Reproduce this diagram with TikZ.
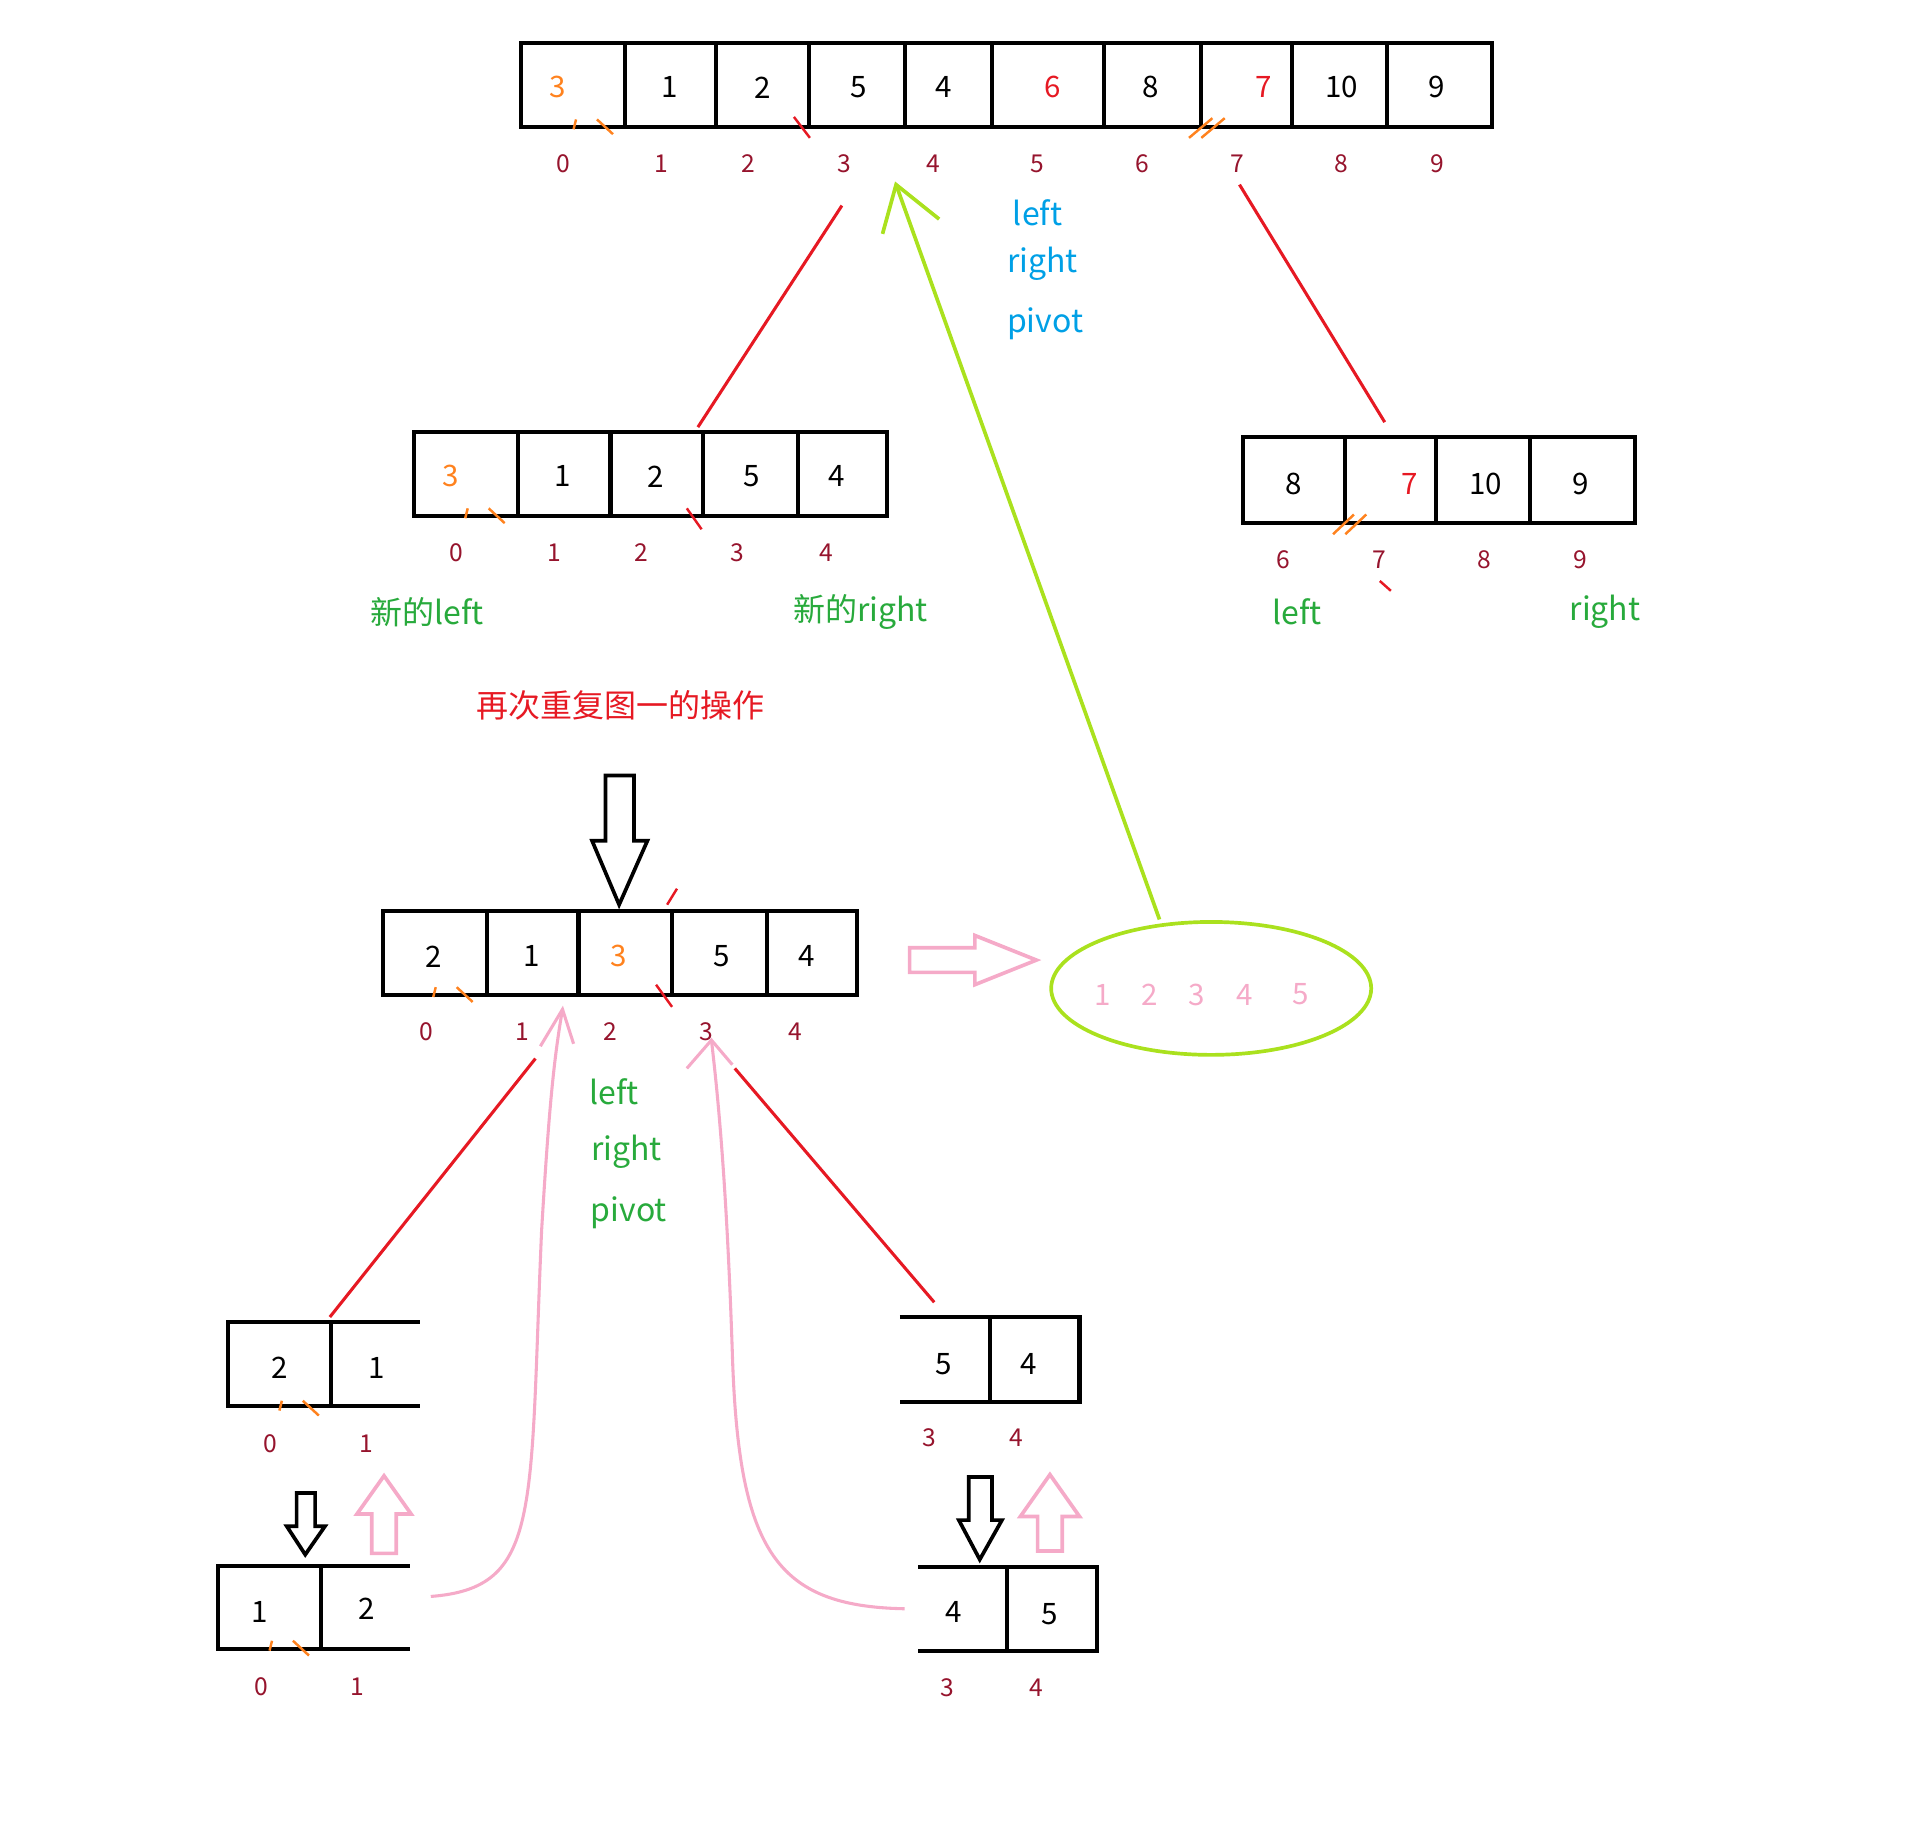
\documentclass[tikz,border=0pt]{standalone}
\usepackage{fontspec}
\setmainfont{Noto Sans CJK SC}
\usetikzlibrary{arrows.meta,shapes.geometric}
\definecolor{idx}{RGB}{150,20,45}
\definecolor{blu}{RGB}{0,160,230}
\definecolor{grn}{RGB}{40,170,60}
\definecolor{ylg}{RGB}{170,225,30}
\definecolor{pnk}{RGB}{245,170,200}
\definecolor{org}{RGB}{255,130,30}
\definecolor{rd}{RGB}{230,25,35}
\tikzset{
 cellbox/.style={line width=3.3pt,draw=black},
 val/.style={font=\fontsize{24}{28}\selectfont,inner sep=0pt},
 ix/.style={font=\fontsize{20}{24}\selectfont,text=idx,inner sep=0pt},
 lab/.style={font=\fontsize{26}{30}\selectfont,inner sep=0pt},
 redline/.style={draw=rd,line width=2.5pt},
 hollow/.style={line width=3pt,line join=miter},
}
\begin{document}
\begin{tikzpicture}[x=1pt,y=-1pt]
\useasboundingbox (0,0) rectangle (1568,1486);
% ---------- top array
\draw[cellbox] (423,35) rectangle (1212,103);
\foreach \x in {508,582,657,735,806,897,976,1050,1127} \draw[cellbox] (\x,35)--(\x,103);
\foreach \x/\v/\c [count=\i] in {453/3/org,544/1/black,620/2/black,698/5/black,767/4/black,855/6/rd,935/8/black,1027/7/rd,1090/10/black,1167/9/black}
  \node[val,text=\c] (t\i) at (\x,71) {\v};
\foreach \x/\v [count=\i] in {458/0,537/1,608/2,686/3,758/4,843/5,928/6,1005/7,1090/8,1168/9}
  \node[ix] (ti\i) at (\x,133) {\v};
\node[lab,text=blu] (l1) at (843,173) {left};
\node[lab,text=blu] (r1) at (847,214) {right};
\node[lab,text=blu] (p1) at (849,263) {pivot};
% ---------- array 2
\draw[cellbox] (336,351) rectangle (721,419);
\foreach \x in {421,496,571,648} \draw[cellbox] (\x,351)--(\x,419);
\foreach \x/\v/\c [count=\i] in {366/3/org,457/1/black,533/2/black,611/5/black,680/4/black}
  \node[val,text=\c] (a\i) at (\x,387) {\v};
\foreach \x/\v [count=\i] in {371/0,450/1,521/2,599/3,671/4}
  \node[ix] (ai\i) at (\x,449) {\v};
\node[lab,text=grn] (nl) at (347,497) {新的left};
\node[lab,text=grn] (nr) at (699,497) {新的right};
% ---------- array 3
\draw[cellbox] (1010,355) rectangle (1328,425);
\foreach \x in {1093,1167,1243} \draw[cellbox] (\x,355)--(\x,425);
\foreach \x/\v/\c [count=\i] in {1051/8/black,1145/7/rd,1207/10/black,1284/9/black}
  \node[val,text=\c] (b\i) at (\x,393) {\v};
\foreach \x/\v [count=\i] in {1043/6,1121/7,1206/8,1284/9}
  \node[ix] (bi\i) at (\x,455) {\v};
\node[lab,text=grn] (bl) at (1054,497) {left};
\node[lab,text=grn] (br) at (1304,497) {right};
% red connectors top
\coordinate (c1) at (684,167); \coordinate (c2) at (567,347);
\coordinate (c3) at (1007,150); \coordinate (c4) at (1125,343);
\draw[redline] (c1)--(c2);
\draw[redline] (c3)--(c4);
% text
\node[lab,text=rd] (rep) at (504,573) {再次重复图一的操作};
% hollow down arrow
\draw[hollow] (492,630)--(515,630)--(515,683)--(526,683)--(503,735)--(481,683)--(492,683)--cycle;
% ---------- array 4
\draw[cellbox] (311,740) rectangle (696,808);
\foreach \x in {396,470,546,623} \draw[cellbox] (\x,740)--(\x,808);
\foreach \x/\v/\c [count=\i] in {352/2/black,432/1/black,503/3/org,586/5/black,655/4/black}
  \node[val,text=\c] (d\i) at (\x,777) {\v};
\foreach \x/\v [count=\i] in {346/0,424/1,496/2,574/3,646/4}
  \node[ix] (di\i) at (\x,838) {\v};
\node[lab,text=grn] (gl) at (499,887) {left};
\node[lab,text=grn] (gr) at (509,936) {right};
\node[lab,text=grn] (gp) at (511,985) {pivot};
% pink right arrow
\draw[hollow,draw=pnk] (739,770)--(792,770)--(792,760)--(842,780)--(792,800)--(792,790)--(739,790)--cycle;
% ellipse
\node[draw=ylg,line width=3pt,ellipse,minimum width=260pt,minimum height=108pt,inner sep=0pt] (ell) at (984,803) {};
\foreach \x/\v in {896/1,934/2,972/3,1011/4,1057/5}
  \node[val,text=pnk] (e\v) at (\x,808) {\v};
% green line with open arrow
\coordinate (g1) at (942,747); \coordinate (g2) at (728,150);
\draw[draw=ylg,line width=3pt] (g1)--(g2);
\draw[draw=ylg,line width=3pt] (717,190)--(g2)--(763,178);
% red connectors lower
\coordinate (c5) at (435,860); \coordinate (c6) at (268,1070);
\coordinate (c7) at (597,868); \coordinate (c8) at (759,1058);
\draw[redline] (c5)--(c6);
\draw[redline] (c7)--(c8);
% ---------- array 5
\draw[cellbox] (341,1074)--(185,1074)--(185,1142)--(341,1142);
\draw[cellbox] (269,1074)--(269,1142);
\node[val] (f1) at (227,1111) {2}; \node[val] (f2) at (306,1111) {1};
\node[ix] (fi1) at (220,1173) {0}; \node[ix] (fi2) at (298,1173) {1};
% ---------- array 6
\draw[cellbox] (731,1070)--(877,1070)--(877,1139)--(731,1139);
\draw[cellbox] (804,1070)--(804,1139);
\node[val] (h1) at (767,1108) {5}; \node[val] (h2) at (836,1108) {4};
\node[ix] (hi1) at (755,1168) {3}; \node[ix] (hi2) at (826,1168) {4};
% small arrows
\draw[hollow] (241,1213)--(256,1213)--(256,1240)--(264,1240)--(248,1263)--(233,1240)--(241,1240)--cycle;
\draw[hollow,draw=pnk] (302,1262)--(322,1262)--(322,1230)--(334,1230)--(312,1199)--(290,1230)--(302,1230)--cycle;
\draw[hollow] (787,1200)--(806,1200)--(806,1235)--(814,1235)--(796,1267)--(779,1235)--(787,1235)--cycle;
\draw[hollow,draw=pnk] (843,1260)--(863,1260)--(863,1232)--(877,1232)--(853,1198)--(829,1232)--(843,1232)--cycle;
% ---------- array 7
\draw[cellbox] (333,1272)--(177,1272)--(177,1340)--(333,1340);
\draw[cellbox] (261,1272)--(261,1340);
\node[val] (k1) at (211,1310) {1}; \node[val] (k2) at (298,1307) {2};
\node[ix] (ki1) at (212,1370) {0}; \node[ix] (ki2) at (290,1370) {1};
% ---------- array 8
\draw[cellbox] (746,1273)--(891,1273)--(891,1341)--(746,1341);
\draw[cellbox] (818,1273)--(818,1341);
\node[val] (m1) at (775,1310) {4}; \node[val] (m2) at (853,1311) {5};
\node[ix] (mi1) at (770,1371) {3}; \node[ix] (mi2) at (842,1371) {4};
% pink curves
\coordinate (p1s) at (350,1297); \coordinate (p1e) at (457,820);
\coordinate (p2s) at (735,1307); \coordinate (p2e) at (578,845);
\draw[pnk,line width=2.5pt] (p1s) .. controls (440,1290) and (430,1230) .. (440,1000) .. controls (446,900) and (450,860) .. (p1e);
\draw[pnk,line width=2.5pt] (439,850)--(p1e)--(466,848);
\draw[pnk,line width=2.5pt] (p2s) .. controls (630,1305) and (600,1260) .. (595,1100) .. controls (590,950) and (582,880) .. (p2e);
\draw[pnk,line width=2.5pt] (558,868)--(p2e)--(595,865);
% small orange/red ticks
\foreach \x/\y in {468/97,380/413,354/802,229/1138,221/1333}{
  \draw[org,line width=2pt] (\x,\y)--(\x-2,\y+8);
  \draw[org,line width=2pt] (\x+17,\y)--(\x+30,\y+12);}
\draw[rd,line width=2pt] (645,95)--(658,112);
\draw[rd,line width=2pt] (558,413)--(570,430);
\draw[rd,line width=2pt] (533,800)--(546,818);
\draw[rd,line width=2pt] (542,735)--(550,722);
\draw[org,line width=2pt] (966,112)--(985,96) (976,112)--(995,96);
\draw[org,line width=2pt] (1083,434)--(1100,418) (1093,434)--(1110,418);
\draw[rd,line width=2pt] (1121,472)--(1130,480);
\end{tikzpicture}
\end{document}
